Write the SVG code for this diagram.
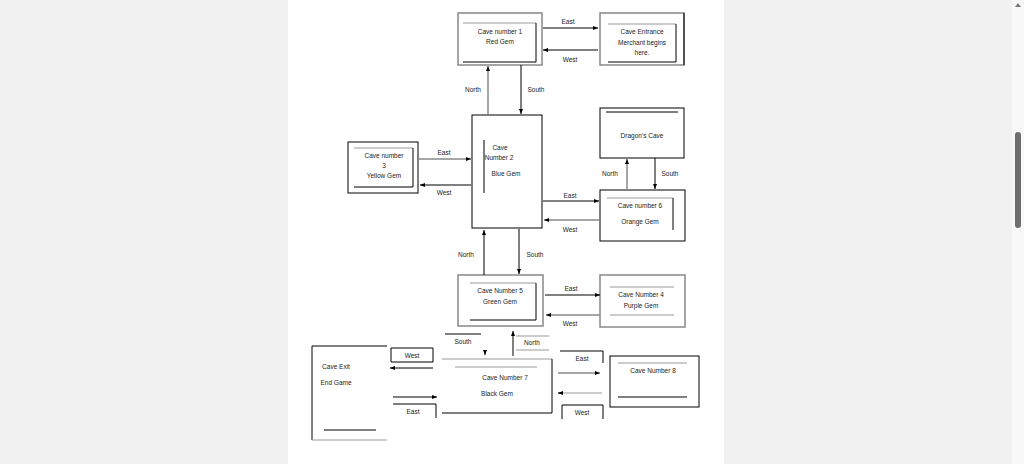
<svg xmlns="http://www.w3.org/2000/svg" width="1024" height="464" viewBox="0 0 1024 464">
<defs>
<marker id="a" markerWidth="6" markerHeight="6" refX="5" refY="3" orient="auto" markerUnits="userSpaceOnUse"><path d="M0,1 L5,3 L0,5z" fill="#000"/></marker>
<style>
.b{fill:#fff;stroke:#000;stroke-width:1}
.g{fill:#fff;stroke:#888;stroke-width:1.5}
.l{stroke:#000;stroke-width:1;fill:none}
.lg{stroke:#999;stroke-width:1;fill:none}
.c{stroke:#000;stroke-width:1;fill:none;marker-end:url(#a)}
.cg{stroke:#888;stroke-width:1.5;fill:none;marker-end:url(#a)}
text{font-family:"Liberation Sans",Arial,sans-serif;font-size:6.5px;fill:#222;text-anchor:middle}
</style>
</defs>
<rect width="1024" height="464" fill="#f1f1f1"/>
<rect x="288" y="0" width="436" height="464" fill="#fff"/>
<rect x="1012" y="0" width="12" height="464" fill="#f8f8f8"/>
<rect x="1015" y="132" width="6" height="96" rx="3" fill="#6e6e6e"/>
<path d="M1018,3 l-3,4 h6z" fill="#777"/>

<g id="c1"><rect class="g" x="458" y="13" width="84" height="52"/><path class="lg" d="M463,23 H536"/><path class="l" d="M536,23 V62 M463,62 H536"/><text x="500" y="34">Cave number 1</text><text x="500" y="44">Red Gem</text></g>
<g id="ce"><rect class="g" x="600" y="13" width="84" height="52"/><path class="lg" d="M608,24 H676"/><path class="l" d="M676,24 V62 M608,62 H676 M684,13 V65"/><text x="642" y="34">Cave Entrance</text><text x="642" y="45">Merchant begins</text><text x="642" y="55">here.</text></g>
<g id="c2"><rect class="b" x="472" y="115" width="70" height="113"/><path class="l" d="M484,140 V193"/><text x="500" y="150">Cave</text><text x="499" y="160">Number 2</text><text x="506" y="176">Blue Gem</text></g>
<g id="c3"><rect class="b" x="348" y="142" width="70" height="51"/><path class="lg" d="M354,148 H413"/><path class="l" d="M413,148 V187 M354,187 H413"/><text x="384" y="158">Cave number</text><text x="384" y="168">3</text><text x="384" y="178">Yellow Gem</text></g>
<g id="dc"><rect class="b" x="600" y="108" width="84" height="50"/><path class="l" d="M606,112 H678"/><text x="642" y="138">Dragon's Cave</text></g>
<g id="c6"><rect class="b" x="600" y="190" width="85" height="51"/><path class="lg" d="M607,198 H673"/><path class="l" d="M673,198 V230"/><text x="640" y="208">Cave number 6</text><text x="640" y="224">Orange Gem</text></g>
<g id="c5"><rect class="g" x="458" y="275" width="85" height="51"/><path class="lg" d="M470,283 H536"/><path class="l" d="M536,283 V320 M470,320 H536"/><text x="500" y="293">Cave Number 5</text><text x="500" y="304">Green Gem</text></g>
<g id="c4"><rect class="g" x="600" y="275" width="85" height="52"/><path class="lg" d="M610,287 H674 M610,315 H674"/><text x="641" y="297">Cave Number 4</text><text x="641" y="308">Purple Gem</text></g>
<g id="exit"><path class="l" d="M312,440 V346 H387"/><path class="lg" d="M312,440 H387"/><path class="l" d="M324,430 H376"/><text x="336" y="369">Cave Exit</text><text x="336" y="385">End Game</text></g>
<g id="c7"><path class="lg" d="M442,359 H552"/><path class="l" d="M552,359 V413 H442"/><path class="lg" d="M455,367 H537"/><text x="505" y="380">Cave Number 7</text><text x="497" y="396">Black Gem</text></g>
<g id="c8"><rect class="b" x="610" y="356" width="89" height="51"/><path class="lg" d="M618,363 H687"/><path class="l" d="M618,397 H687"/><text x="653" y="373">Cave Number 8</text></g>

<g id="connectors">
<path class="c" d="M543,28 H598"/><path class="c" d="M598,50 H543"/>
<path class="cg" d="M488,115 V66"/><path class="c" d="M521,65 V114"/>
<path class="cg" d="M419,159 H471"/><path class="c" d="M471,185 H420"/>
<path class="cg" d="M627,190 V159"/><path class="c" d="M655,158 V189"/>
<path class="c" d="M543,201 H599"/><path class="cg" d="M599,220 H544"/>
<path class="c" d="M484,275 V230"/><path class="c" d="M519,229 V274"/>
<path class="c" d="M545,295 H600"/><path class="cg" d="M600,315 H546"/>
<path class="c" d="M433,368 H390"/><path class="c" d="M393,397 H437"/>
<path class="l" d="M445,334 H481"/><path class="c" d="M485,352 V355"/>
<path class="c" d="M513,356 V331"/><path class="lg" d="M516,336 H549 M516,350 H549"/>
<path class="l" d="M391,348 H433 V362 H391 V348 M393,404 H436 V418 M560,351 H603 V363"/>
<path class="cg" d="M558,373 H600"/><path class="lg" d="M602,393 H559"/><path class="c" d="M562,393 H558"/>
<path class="l" d="M562,419 V405 H603 V419"/>
</g>
<g id="labels">
<text x="568" y="24">East</text><text x="570" y="62">West</text>
<text x="473" y="92">North</text><text x="536" y="92">South</text>
<text x="444" y="155">East</text><text x="444" y="195">West</text>
<text x="610" y="176">North</text><text x="670" y="176">South</text>
<text x="570" y="198">East</text><text x="570" y="232">West</text>
<text x="466" y="257">North</text><text x="535" y="257">South</text>
<text x="571" y="291">East</text><text x="570" y="326">West</text>
<text x="412" y="358">West</text><text x="413" y="414">East</text>
<text x="463" y="344">South</text><text x="532" y="345">North</text>
<text x="582" y="361">East</text><text x="582" y="415">West</text>
</g>
</svg>
